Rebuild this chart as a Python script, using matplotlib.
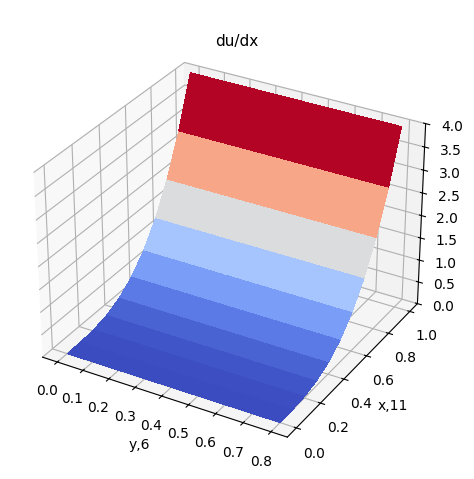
import matplotlib
matplotlib.use("Agg")
import matplotlib.pyplot as plt
import numpy as np

# grid values along each axis
y_vals = [0.0, 0.16, 0.32, 0.48, 0.64, 0.8]
x_vals = [0.0, 0.1, 0.2, 0.3, 0.4, 0.5, 0.6, 0.7, 0.8, 0.9, 1.0]
# du/dx at each x
dudx = [0.0, 0.004, 0.032, 0.108, 0.256, 0.5, 0.864, 1.372, 2.048, 2.916, 4.0]

Y, X = np.meshgrid(y_vals, x_vals)
Z = np.tile(np.array(dudx)[:, None], (1, len(y_vals)))

fig = plt.figure(figsize=(4.74, 4.79), dpi=100)
ax = fig.add_axes([0.015, 0.03, 0.93, 0.91], projection="3d")
ax.plot_surface(Y, X, Z, cmap="coolwarm", linewidth=0, antialiased=False)
ax.set_xlabel("y,6")
ax.set_ylabel("x,11")
ax.set_xticks(np.arange(0, 0.81, 0.1))
ax.set_zlim(0, 4)
fig.suptitle("du/dx", y=0.93, fontsize=11)
fig.savefig("out.png")
